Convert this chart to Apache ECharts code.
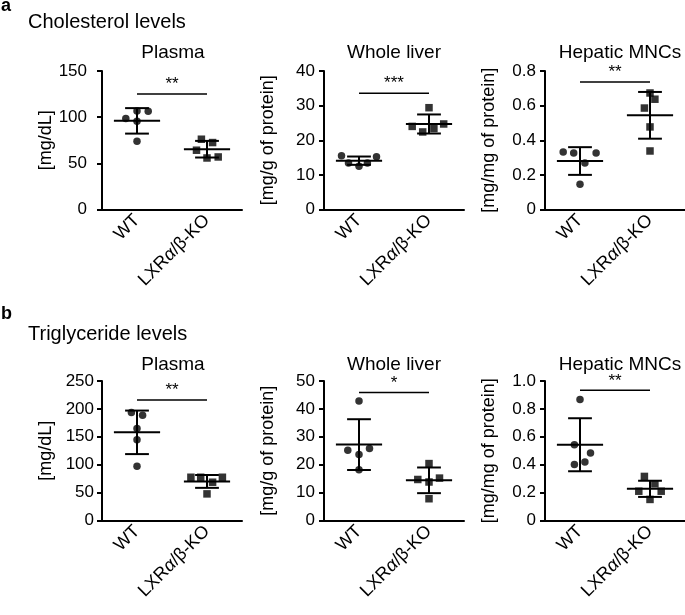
<!DOCTYPE html>
<html>
<head>
<meta charset="utf-8">
<script src="https://cdn.jsdelivr.net/npm/echarts@6/dist/echarts.min.js"></script>
<style>
  html, body { margin: 0; padding: 0; background: #fff; }
  #main { width: 685px; height: 615px; }
</style>
</head>
<body>
<div id="main"></div>
<script>
var groups = ['WT', 'LXRα/β-KO'];

// [jitter, value] pairs
// a: cholesterol
var cholPlasmaWT = [[-0.16, 98.5], [0, 106.7], [0.16, 106.4], [0, 95.6], [0, 73.9]];
var cholPlasmaKO = [[-0.08, 76.1], [0.08, 72.5], [-0.15, 64.2], [0, 55.8], [0.16, 56.9]];
var cholPlasmaMean = [96, 65.3];
var cholPlasmaSD = [13.8, 9];

var cholLiverWT = [[-0.25, 15.5], [-0.15, 13.4], [0, 12.5], [0.12, 13.4], [0.25, 15.2]];
var cholLiverKO = [[0, 29.4], [-0.24, 24], [0.21, 24.7], [-0.09, 22.4], [0.07, 23.4]];
var cholLiverMean = [14.1, 24.7];
var cholLiverSD = [1.2, 2.75];

var cholMncWT = [[-0.24, 0.332], [-0.09, 0.327], [0.23, 0.327], [0.07, 0.269], [0, 0.146]];
var cholMncKO = [[0, 0.673], [0.07, 0.637], [-0.08, 0.586], [0, 0.477], [0, 0.338]];
var cholMncMean = [0.28, 0.544];
var cholMncSD = [0.08, 0.135];

// b: triglyceride
var tgPlasmaWT = [[-0.08, 193.6], [0.08, 188.8], [0, 165], [0, 144.6], [0, 97.1]];
var tgPlasmaKO = [[-0.23, 77.5], [-0.09, 77.5], [0.22, 77.5], [0.08, 68.6], [0, 47.7]];
var tgPlasmaMean = [158, 70];
var tgPlasmaSD = [39, 11.5];

var tgLiverWT = [[0, 42.8], [-0.16, 25.2], [0, 23.7], [0.15, 25.8], [0, 18.2]];
var tgLiverKO = [[0, 20.4], [-0.16, 14.7], [0, 13.8], [0.15, 15.2], [0, 7.8]];
var tgLiverMean = [27.2, 14.4];
var tgLiverSD = [9.1, 4.6];

var tgMncWT = [[0, 0.868], [-0.08, 0.543], [0.15, 0.483], [-0.08, 0.402], [0.07, 0.419]];
var tgMncKO = [[-0.08, 0.316], [-0.16, 0.21], [0.07, 0.263], [0.16, 0.21], [0, 0.151]];
var tgMncMean = [0.543, 0.227];
var tgMncSD = [0.19, 0.058];

// significance bar heights and labels
var sigLevels = [125, 33.6, 0.737, 216, 45.9, 0.933];
var sigLabels = ['**', '***', '**', '**', '*', '**'];

// axis ranges
var axisMax = [150, 40, 0.8, 250, 50, 1.0];
var axisStep = [50, 10, 0.2, 50, 10, 0.2];

var panelTitles = ['Plasma', 'Whole liver', 'Hepatic MNCs', 'Plasma', 'Whole liver', 'Hepatic MNCs'];
var unitNames = ['[mg/dL]', '[mg/g of protein]', '[mg/mg of protein]', '[mg/dL]', '[mg/g of protein]', '[mg/mg of protein]'];

var panels = [
    { wt: cholPlasmaWT, ko: cholPlasmaKO, mean: cholPlasmaMean, sd: cholPlasmaSD },
    { wt: cholLiverWT, ko: cholLiverKO, mean: cholLiverMean, sd: cholLiverSD },
    { wt: cholMncWT, ko: cholMncKO, mean: cholMncMean, sd: cholMncSD },
    { wt: tgPlasmaWT, ko: tgPlasmaKO, mean: tgPlasmaMean, sd: tgPlasmaSD },
    { wt: tgLiverWT, ko: tgLiverKO, mean: tgLiverMean, sd: tgLiverSD },
    { wt: tgMncWT, ko: tgMncKO, mean: tgMncMean, sd: tgMncSD }
];

var FONT = "'Liberation Sans', Arial, sans-serif";
var lefts = [102, 324, 545];
var tops = [71, 381];
var heights = [138.5, 139.5];
var titleX = [173, 394, 620];
var titleY = [53, 365];
var labelMargins = [15, 9, 9, 8, 9, 9];

var grid = [], xAxis = [], yAxis = [], series = [], graphic = [];

function errorBars(params, api) {
    var x = api.value(0), m = api.value(1), s = api.value(2);
    var st = { stroke: '#000', lineWidth: 2 };
    var c1 = api.coord([x - 0.33, m]), c2 = api.coord([x + 0.33, m]);
    var t = api.coord([x, m + s]), b = api.coord([x, m - s]);
    var tl = api.coord([x - 0.17, m + s]), tr = api.coord([x + 0.17, m + s]);
    var bl = api.coord([x - 0.17, m - s]), br = api.coord([x + 0.17, m - s]);
    return {
        type: 'group',
        children: [
            { type: 'line', shape: { x1: c1[0], y1: c1[1], x2: c2[0], y2: c2[1] }, style: st },
            { type: 'line', shape: { x1: t[0], y1: t[1], x2: b[0], y2: b[1] }, style: st },
            { type: 'line', shape: { x1: tl[0], y1: tl[1], x2: tr[0], y2: tr[1] }, style: st },
            { type: 'line', shape: { x1: bl[0], y1: bl[1], x2: br[0], y2: br[1] }, style: st }
        ]
    };
}

panels.forEach(function (p, i) {
    var row = Math.floor(i / 3), col = i % 3;
    grid.push({ left: lefts[col], top: tops[row], width: 140, height: heights[row] });

    xAxis.push({
        gridIndex: i,
        type: 'category',
        data: groups,
        boundaryGap: true,
        axisLine: { onZero: false, lineStyle: { color: '#000', width: 2 } },
        axisTick: { alignWithLabel: true, length: 5, lineStyle: { color: '#000', width: 2 } },
        axisLabel: {
            interval: 0,
            rotate: 45,
            margin: 8,
            color: '#000',
            fontSize: 18,
            fontFamily: FONT,
            formatter: function (v) { return v.replace('α', '{i|α}'); },
            rich: { i: { fontStyle: 'italic', fontSize: 18, fontFamily: FONT, color: '#000' } }
        }
    });
    xAxis.push({ gridIndex: i, type: 'value', min: -0.5, max: 1.5, show: false });

    var step = axisStep[i];
    yAxis.push({
        gridIndex: i,
        type: 'value',
        min: 0,
        max: axisMax[i],
        interval: step,
        axisLine: { show: true, onZero: false, lineStyle: { color: '#000', width: 2 } },
        axisTick: { show: true, length: 5, lineStyle: { color: '#000', width: 2 } },
        splitLine: { show: false },
        axisLabel: {
            color: '#000',
            fontSize: 17,
            fontFamily: FONT,
            margin: labelMargins[i],
            formatter: function (v) {
                if (v === 0) return '0';
                return step < 1 ? v.toFixed(1) : String(v);
            }
        },
        name: unitNames[i],
        nameLocation: 'middle',
        nameGap: 47,
        nameTextStyle: { color: '#000', fontSize: 18, fontFamily: FONT }
    });

    var xi = i * 2 + 1;
    series.push({
        type: 'scatter',
        xAxisIndex: xi,
        yAxisIndex: i,
        symbol: 'circle',
        symbolSize: 7.5,
        itemStyle: { color: '#000' },
        data: p.wt.map(function (d) { return [0 + d[0], d[1]]; }),
        z: 3
    });
    series.push({
        type: 'scatter',
        xAxisIndex: xi,
        yAxisIndex: i,
        symbol: 'rect',
        symbolSize: 7.5,
        itemStyle: { color: '#000' },
        data: p.ko.map(function (d) { return [1 + d[0], d[1]]; }),
        z: 3
    });
    series.push({
        type: 'custom',
        xAxisIndex: xi,
        yAxisIndex: i,
        renderItem: errorBars,
        data: [[0, p.mean[0], p.sd[0]], [1, p.mean[1], p.sd[1]]],
        z: 4
    });
    series.push({
        type: 'custom',
        xAxisIndex: xi,
        yAxisIndex: i,
        renderItem: function (params, api) {
            var a = api.coord([api.value(0), api.value(2)]);
            var b = api.coord([api.value(1), api.value(2)]);
            return {
                type: 'group',
                children: [
                    { type: 'line', shape: { x1: a[0], y1: a[1], x2: b[0], y2: b[1] }, style: { stroke: '#000', lineWidth: 1.5 } },
                    { type: 'text', style: { x: (a[0] + b[0]) / 2, y: a[1] - 1, text: sigLabels[i], textAlign: 'center', textVerticalAlign: 'bottom', font: '17px ' + FONT, fill: '#000' } }
                ]
            };
        },
        data: [[0, 1, sigLevels[i]]]
    });

    graphic.push({
        type: 'text',
        style: { x: titleX[col], y: titleY[row], text: panelTitles[i], textAlign: 'center', textVerticalAlign: 'middle', font: '19px ' + FONT, fill: '#000' }
    });
});

graphic.push({ type: 'text', style: { x: 1, y: 6, text: 'a', textVerticalAlign: 'middle', font: 'bold 18px ' + FONT, fill: '#000' } });
graphic.push({ type: 'text', style: { x: 28, y: 22, text: 'Cholesterol levels', textVerticalAlign: 'middle', font: '20px ' + FONT, fill: '#000' } });
graphic.push({ type: 'text', style: { x: 1, y: 314, text: 'b', textVerticalAlign: 'middle', font: 'bold 18px ' + FONT, fill: '#000' } });
graphic.push({ type: 'text', style: { x: 28, y: 334, text: 'Triglyceride levels', textVerticalAlign: 'middle', font: '20px ' + FONT, fill: '#000' } });

var chart = echarts.init(document.getElementById('main'));
chart.setOption({
    backgroundColor: '#fff',
    animation: false,
    grid: grid,
    xAxis: xAxis,
    yAxis: yAxis,
    series: series,
    graphic: graphic
});
</script>
</body>
</html>
